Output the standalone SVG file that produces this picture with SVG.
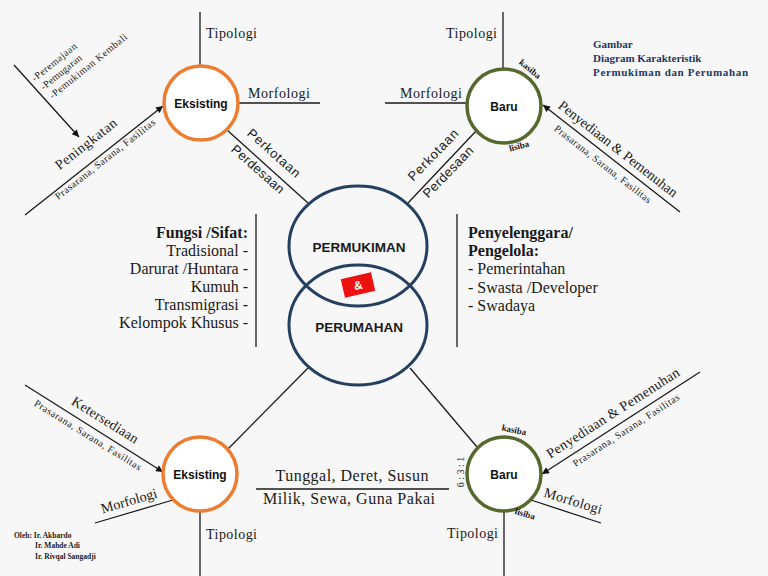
<svg xmlns="http://www.w3.org/2000/svg" width="768" height="576" viewBox="0 0 768 576">
<defs>
<marker id="ah" viewBox="0 0 10 10" refX="10" refY="5" markerWidth="9" markerHeight="7" markerUnits="userSpaceOnUse" orient="auto"><path d="M0,0 L10,5 L0,10 z" fill="#111"/></marker>
<style>
.ln{stroke:#1a1a1a;stroke-width:1.3;fill:none}
.ar{stroke:#1a1a1a;stroke-width:1.3;fill:none;marker-end:url(#ah)}
.or{fill:#fff;stroke:#ED7D31;stroke-width:3.5}
.gr{fill:#fff;stroke:#55682E;stroke-width:3.5}
.nv{fill:none;stroke:#243F60;stroke-width:3}
.nd{font-family:"Liberation Sans",Arial,sans-serif;font-weight:bold;font-size:12px;fill:#111;text-anchor:middle;dominant-baseline:central}
.big{font-family:"Liberation Sans",Arial,sans-serif;font-weight:bold;font-size:13.5px;fill:#1a1a1a;text-anchor:middle;dominant-baseline:central}
.sf{font-family:"Liberation Serif","Times New Roman",serif;fill:#1a1a1a}
.s16{font-size:16px}
.s14{font-size:14px}
.s10{font-size:10px}
.s9{font-size:9px}
.rc{text-anchor:middle;dominant-baseline:central}
.ss{font-family:"Liberation Sans",Arial,sans-serif;font-size:13px;fill:#1a1a1a;text-anchor:middle;dominant-baseline:central}
.b{font-weight:bold}
.ttl{font-family:"Liberation Serif","Times New Roman",serif;font-weight:bold;font-size:11px;fill:#1F3864}
.cr{font-family:"Liberation Serif","Times New Roman",serif;font-weight:bold;font-size:7.5px;fill:#222}
</style>
</defs>
<rect x="0" y="0" width="768" height="576" fill="#f6f7f6"/>

<g id="connectors">
<line class="ln" x1="200" y1="12" x2="200" y2="67"/>
<line class="ln" x1="238" y1="103" x2="320" y2="103"/>
<line class="ln" x1="227" y1="130" x2="308" y2="203"/>
<line class="ar" x1="25" y1="215" x2="163" y2="106"/>
<line class="ar" x1="14" y1="65" x2="79" y2="137"/>
<line class="ln" x1="503" y1="12" x2="503" y2="68"/>
<line class="ln" x1="385" y1="103" x2="466" y2="103"/>
<line class="ln" x1="408" y1="203" x2="477" y2="130"/>
<line class="ar" x1="680" y1="212" x2="543" y2="105"/>
<line class="ln" x1="228" y1="449" x2="308" y2="368"/>
<line class="ar" x1="25" y1="385" x2="163" y2="472"/>
<line class="ln" x1="95" y1="523" x2="173" y2="500"/>
<line class="ln" x1="200" y1="511" x2="200" y2="576"/>
<line class="ln" x1="410" y1="368" x2="477" y2="447"/>
<line class="ar" x1="700" y1="372" x2="542" y2="474"/>
<line class="ln" x1="531" y1="500" x2="601" y2="523"/>
<line class="ln" x1="504" y1="511" x2="504" y2="576"/>
<line class="ln" x1="256" y1="214" x2="256" y2="347"/>
<line class="ln" x1="457" y1="214" x2="457" y2="347"/>
<line class="ln" x1="256" y1="489" x2="449" y2="489"/>
</g>

<g id="node-permukiman">
<ellipse class="nv" cx="358" cy="246" rx="69" ry="60"/>
<text class="big" x="359" y="247">PERMUKIMAN</text>
</g>
<g id="node-perumahan">
<ellipse class="nv" cx="358" cy="325" rx="69" ry="60"/>
<text class="big" x="359" y="327">PERUMAHAN</text>
</g>
<g id="badge-and" transform="translate(358,285) rotate(-13)">
<rect x="-15.5" y="-9.5" width="31" height="19" fill="#EE1111"/>
<text x="0" y="0.5" font-family="Liberation Sans,Arial,sans-serif" font-weight="bold" font-size="12" fill="#fff" text-anchor="middle" dominant-baseline="central">&amp;</text>
</g>

<g id="node-eksisting-top">
<circle class="or" cx="201" cy="103" r="37"/>
<text class="nd" x="201" y="104">Eksisting</text>
</g>
<g id="node-baru-top">
<circle class="gr" cx="504" cy="106" r="37"/>
<text class="nd" x="504" y="107">Baru</text>
</g>
<g id="node-eksisting-bottom">
<circle class="or" cx="200" cy="474" r="37"/>
<text class="nd" x="200" y="475">Eksisting</text>
</g>
<g id="node-baru-bottom">
<circle class="gr" cx="504" cy="474" r="37"/>
<text class="nd" x="504" y="475">Baru</text>
</g>

<g id="labels-top-left">
<text class="sf s14" x="206" y="38" textLength="51">Tipologi</text>
<text class="sf s14" x="248" y="98" textLength="62">Morfologi</text>
<text class="ss" transform="translate(274,153) rotate(41.6)" textLength="66">Perkotaan</text>
<text class="ss" transform="translate(258,169) rotate(41.6)" textLength="66">Perdesaan</text>
<text class="sf s14 rc" transform="translate(86,144) rotate(-38)" textLength="74">Peningkatan</text>
<text class="sf s10 rc" transform="translate(105,159) rotate(-38)" textLength="124">Prasarana, Sarana, Fasilitas</text>
<text class="sf s10 rc" transform="translate(54,62) rotate(-39)" textLength="55">-Peremajaan</text>
<text class="sf s10 rc" transform="translate(61,72) rotate(-39)" textLength="50">-Pemugaran</text>
<text class="sf s10 rc" transform="translate(88,66) rotate(-39)" textLength="97">-Pemukiman Kembali</text>
</g>

<g id="labels-top-right">
<text class="sf s14" x="497" y="38" text-anchor="end" textLength="51">Tipologi</text>
<text class="sf s14" x="400" y="98" textLength="62">Morfologi</text>
<text class="ss" transform="translate(433,155) rotate(-46)" textLength="66">Perkotaan</text>
<text class="ss" transform="translate(448,172) rotate(-46)" textLength="66">Perdesaan</text>
<text class="sf s9 b rc" transform="translate(530,69) rotate(40)">kasiba</text>
<text class="sf s9 b rc" transform="translate(519,146) rotate(-15)">lisiba</text>
<text class="sf s14 rc" transform="translate(618,149) rotate(38)" textLength="147">Penyediaan &amp; Pemenuhan</text>
<text class="sf s10 rc" transform="translate(603,164) rotate(38)" textLength="120">Prasarana, Sarana, Fasilitas</text>
<text class="ttl" x="593" y="48">Gambar</text>
<text class="ttl" x="593" y="62">Diagram Karakteristik</text>
<text class="ttl" x="593" y="76" textLength="155">Permukiman dan Perumahan</text>
</g>

<g id="labels-center">
<g class="sf s16" text-anchor="end">
<text class="b" x="248" y="238">Fungsi /Sifat:</text>
<text x="248" y="256">Tradisional -</text>
<text x="248" y="274">Darurat /Huntara -</text>
<text x="248" y="292">Kumuh -</text>
<text x="248" y="310">Transmigrasi -</text>
<text x="248" y="328">Kelompok Khusus -</text>
</g>
<g class="sf s16">
<text class="b" x="468" y="238">Penyelenggara/</text>
<text class="b" x="468" y="256">Pengelola:</text>
<text x="468" y="274">- Pemerintahan</text>
<text x="468" y="293">- Swasta /Developer</text>
<text x="468" y="311">- Swadaya</text>
</g>
<text class="sf s16" x="352" y="481" text-anchor="middle" textLength="153">Tunggal, Deret, Susun</text>
<text class="sf s16" x="349" y="504" text-anchor="middle" textLength="172">Milik, Sewa, Guna Pakai</text>
</g>

<g id="labels-bottom-left">
<text class="sf s14 rc" transform="translate(105,420) rotate(32)" textLength="76">Ketersediaan</text>
<text class="sf s10 rc" transform="translate(88,435) rotate(32)" textLength="124">Prasarana, Sarana, Fasilitas</text>
<text class="sf s14 rc" transform="translate(129,501) rotate(-16.4)" textLength="58">Morfologi</text>
<text class="sf s14" x="206" y="539" textLength="51">Tipologi</text>
<text class="cr" x="14" y="538">Oleh: Ir. Akbardo</text>
<text class="cr" x="35" y="548">Ir. Mahde Adi</text>
<text class="cr" x="35" y="559">Ir. Rivqal Sangadji</text>
</g>

<g id="labels-bottom-right">
<text class="sf s14 rc" transform="translate(613,413) rotate(-32.7)" textLength="155">Penyediaan &amp; Pemenuhan</text>
<text class="sf s10 rc" transform="translate(626,430) rotate(-33)" textLength="125">Prasarana, Sarana, Fasilitas</text>
<text class="sf s14 rc" transform="translate(573,501) rotate(17)" textLength="60">Morfologi</text>
<text class="sf s9 b rc" transform="translate(514,430) rotate(12)">kasiba</text>
<text class="sf s9 b rc" transform="translate(525,514) rotate(17)">lisiba</text>
<text class="sf s10 rc" transform="translate(460,472) rotate(-90)">6 : 3 : 1</text>
<text class="sf s14" x="498" y="538" text-anchor="end" textLength="51">Tipologi</text>
</g>
</svg>
